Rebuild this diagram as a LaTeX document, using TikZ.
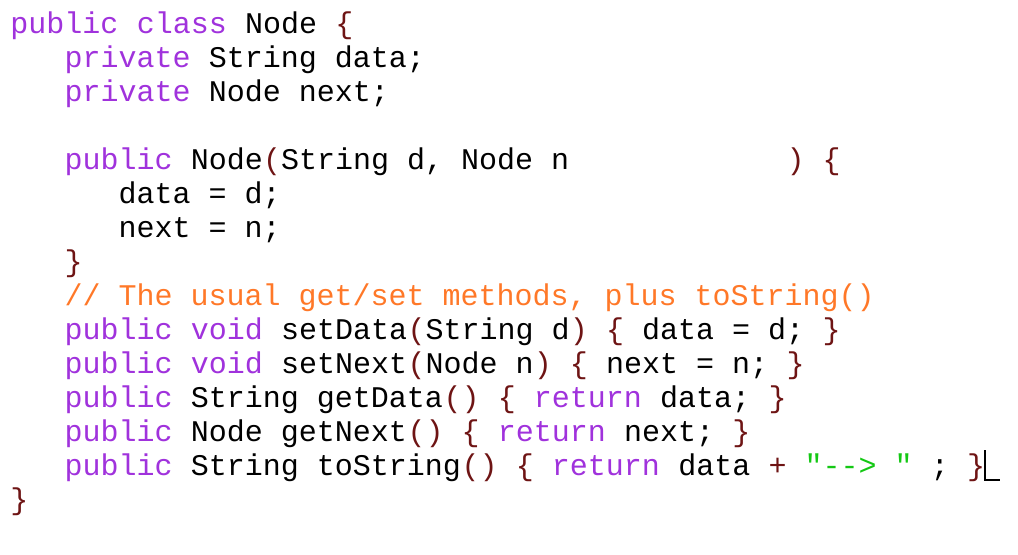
\documentclass[tikz,border=0pt]{standalone}
\usepackage{fontspec}
\newfontfamily\code{Liberation Mono}[Ligatures=NoCommon]
\definecolor{kw}{RGB}{160,50,220}
\definecolor{br}{RGB}{110,20,20}
\definecolor{cm}{RGB}{255,120,40}
\definecolor{st}{RGB}{20,200,20}
\newcommand{\tk}[4]{\node[tok,text=#3] at ({10+18.05*#2},{-(33+34*#1)}) {#4};}
\begin{document}
\begin{tikzpicture}[x=0.5pt,y=0.5pt,tok/.style={anchor=base west,inner sep=0pt,font=\code\fontsize{15pt}{17pt}\selectfont}]
\useasboundingbox (0,0) rectangle (1018,-554);
\tk{0}{0}{kw}{public}\tk{0}{7}{kw}{class}\tk{0}{13}{black}{Node}\tk{0}{18}{br}{\{}
\tk{1}{3}{kw}{private}\tk{1}{11}{black}{String data;}
\tk{2}{3}{kw}{private}\tk{2}{11}{black}{Node next;}
\tk{4}{3}{kw}{public}\tk{4}{10}{black}{Node}\tk{4}{14}{br}{(}\tk{4}{15}{black}{String d, Node n}\tk{4}{43}{br}{)}\tk{4}{45}{br}{\{}
\tk{5}{6}{black}{data = d;}
\tk{6}{6}{black}{next = n;}
\tk{7}{3}{br}{\}}
\tk{8}{3}{cm}{// The usual get/set methods, plus toString()}
\tk{9}{3}{kw}{public}\tk{9}{10}{kw}{void}\tk{9}{15}{black}{setData}\tk{9}{22}{br}{(}\tk{9}{23}{black}{String d}\tk{9}{31}{br}{)}\tk{9}{33}{br}{\{}\tk{9}{35}{black}{data = d;}\tk{9}{45}{br}{\}}
\tk{10}{3}{kw}{public}\tk{10}{10}{kw}{void}\tk{10}{15}{black}{setNext}\tk{10}{22}{br}{(}\tk{10}{23}{black}{Node n}\tk{10}{29}{br}{)}\tk{10}{31}{br}{\{}\tk{10}{33}{black}{next = n;}\tk{10}{43}{br}{\}}
\tk{11}{3}{kw}{public}\tk{11}{10}{black}{String getData}\tk{11}{24}{br}{()}\tk{11}{27}{br}{\{}\tk{11}{29}{kw}{return}\tk{11}{36}{black}{data;}\tk{11}{42}{br}{\}}
\tk{12}{3}{kw}{public}\tk{12}{10}{black}{Node getNext}\tk{12}{22}{br}{()}\tk{12}{25}{br}{\{}\tk{12}{27}{kw}{return}\tk{12}{34}{black}{next;}\tk{12}{40}{br}{\}}
\tk{13}{3}{kw}{public}\tk{13}{10}{black}{String toString}\tk{13}{25}{br}{()}\tk{13}{28}{br}{\{}\tk{13}{30}{kw}{return}\tk{13}{37}{black}{data}\tk{13}{42}{br}{+}\tk{13}{44}{st}{"{}-{}-{}> "}\tk{13}{51}{black}{;}\tk{13}{53}{br}{\}}
\tk{14}{0}{br}{\}}
\draw[line width=1.3pt] (985,-450) -- (985,-480) -- (1000,-480);
\end{tikzpicture}
\end{document}
